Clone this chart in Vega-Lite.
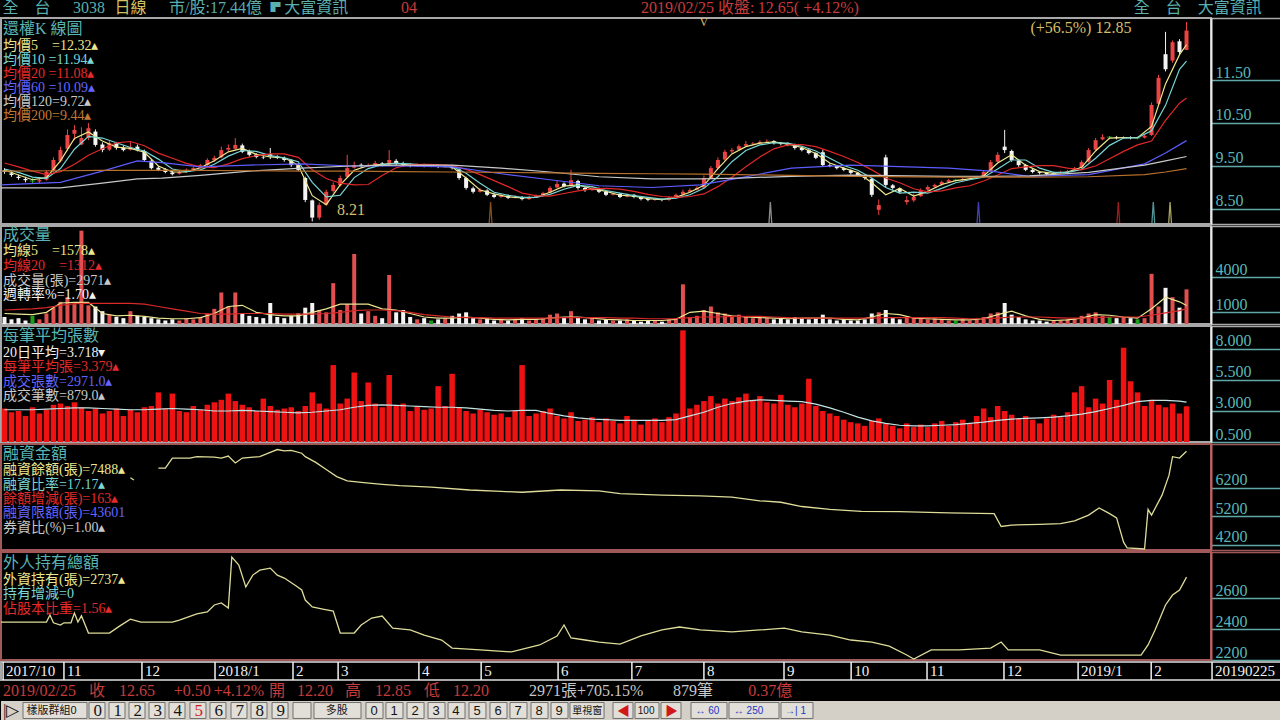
{
"$schema":"https://vega.github.io/schema/vega-lite/v6.json",
"background":"#000000","padding":0,"spacing":2,"bounds":"flush",
"config":{"view":{"stroke":null},"font":"Liberation Serif, Noto Sans CJK TC, sans-serif","text":{"font":"Liberation Serif, Noto Sans CJK TC, sans-serif"},"axis":{"labelOverlap":false}},
"datasets":{
"hdr":[{"col":0.1,"txt":"全　台","s":10},{"col":4.5,"txt":"3038","s":10},{"col":7.1,"txt":"日線","s":11},{"col":10.5,"txt":"市/股:17.44億","s":10},{"col":16.85,"txt":"▛","s":10},{"col":17.7,"txt":"大富資訊","s":10},{"col":25,"txt":"04","s":8},{"col":40,"txt":"2019/02/25 收盤:","s":8},{"col":47.3,"txt":"12.65( +4.12%)","s":8},{"col":70.8,"txt":"全　台　大富資訊","s":10}],
"k":[
{"t":1,"o":9.40,"h":9.45,"l":9.32,"c":9.36,"v":600,"a":3.2},
{"t":3,"o":9.33,"h":9.38,"l":9.25,"c":9.29,"v":400,"a":2.9},
{"t":5,"o":9.25,"h":9.30,"l":9.18,"c":9.22,"v":500,"a":3.0},
{"t":7,"o":9.20,"h":9.25,"l":9.12,"c":9.17,"v":300,"a":2.6},
{"t":9,"o":9.15,"h":9.22,"l":9.10,"c":9.15,"v":700,"a":3.3},
{"t":11,"o":9.14,"h":9.24,"l":9.10,"c":9.17,"v":400,"a":2.8},
{"t":13,"o":9.18,"h":9.40,"l":9.16,"c":9.36,"v":900,"a":3.1},
{"t":15,"o":9.38,"h":9.70,"l":9.35,"c":9.64,"v":1400,"a":3.5},
{"t":17,"o":9.62,"h":9.95,"l":9.58,"c":9.87,"v":1900,"a":3.6},
{"t":19,"o":9.90,"h":10.35,"l":9.85,"c":10.22,"v":2300,"a":3.4},
{"t":21,"o":10.25,"h":10.45,"l":10.10,"c":10.34,"v":1700,"a":3.7},
{"t":23,"o":10.00,"h":10.40,"l":9.98,"c":10.15,"v":8000,"a":3.3},
{"t":25,"o":10.15,"h":10.50,"l":10.10,"c":10.38,"v":1600,"a":3.0},
{"t":27,"o":10.30,"h":10.35,"l":9.95,"c":9.99,"v":1500,"a":3.2},
{"t":29,"o":10.00,"h":10.05,"l":9.82,"c":9.87,"v":1100,"a":2.8},
{"t":31,"o":9.88,"h":10.10,"l":9.85,"c":10.03,"v":800,"a":3.0},
{"t":33,"o":10.02,"h":10.06,"l":9.88,"c":9.92,"v":600,"a":3.2},
{"t":35,"o":9.92,"h":9.98,"l":9.84,"c":9.87,"v":500,"a":2.6},
{"t":37,"o":9.88,"h":10.08,"l":9.86,"c":9.94,"v":1100,"a":3.1},
{"t":39,"o":9.95,"h":10.00,"l":9.84,"c":9.87,"v":700,"a":2.9},
{"t":41,"o":9.85,"h":9.88,"l":9.60,"c":9.64,"v":600,"a":3.3},
{"t":43,"o":9.62,"h":9.66,"l":9.42,"c":9.45,"v":500,"a":3.4},
{"t":45,"o":9.46,"h":9.50,"l":9.38,"c":9.41,"v":400,"a":4.5},
{"t":47,"o":9.42,"h":9.45,"l":9.33,"c":9.36,"v":300,"a":3.2},
{"t":49,"o":9.35,"h":9.40,"l":9.28,"c":9.31,"v":400,"a":4.4},
{"t":51,"o":9.32,"h":9.40,"l":9.30,"c":9.36,"v":300,"a":3.0},
{"t":53,"o":9.37,"h":9.44,"l":9.35,"c":9.41,"v":500,"a":2.9},
{"t":55,"o":9.41,"h":9.48,"l":9.39,"c":9.45,"v":400,"a":3.4},
{"t":57,"o":9.46,"h":9.55,"l":9.44,"c":9.52,"v":600,"a":3.1},
{"t":59,"o":9.52,"h":9.68,"l":9.50,"c":9.64,"v":900,"a":3.5},
{"t":61,"o":9.63,"h":9.74,"l":9.60,"c":9.69,"v":1300,"a":3.7},
{"t":63,"o":9.70,"h":9.95,"l":9.68,"c":9.87,"v":2700,"a":3.9},
{"t":65,"o":9.88,"h":10.00,"l":9.85,"c":9.92,"v":1500,"a":4.4},
{"t":67,"o":9.90,"h":10.15,"l":9.88,"c":9.99,"v":2700,"a":3.8},
{"t":69,"o":9.98,"h":10.02,"l":9.80,"c":9.83,"v":900,"a":3.5},
{"t":71,"o":9.84,"h":9.88,"l":9.72,"c":9.76,"v":700,"a":3.3},
{"t":73,"o":9.77,"h":9.80,"l":9.68,"c":9.71,"v":600,"a":3.0},
{"t":75,"o":9.70,"h":9.74,"l":9.66,"c":9.69,"v":500,"a":4.0},
{"t":77,"o":9.78,"h":9.92,"l":9.66,"c":9.73,"v":1800,"a":3.4},
{"t":79,"o":9.72,"h":9.75,"l":9.66,"c":9.69,"v":600,"a":3.1},
{"t":81,"o":9.69,"h":9.72,"l":9.60,"c":9.64,"v":500,"a":3.2},
{"t":83,"o":9.63,"h":9.66,"l":9.48,"c":9.52,"v":700,"a":3.3},
{"t":85,"o":9.52,"h":9.56,"l":9.38,"c":9.41,"v":900,"a":3.0},
{"t":87,"o":9.22,"h":9.25,"l":8.66,"c":8.71,"v":1400,"a":3.4},
{"t":89,"o":8.70,"h":8.72,"l":8.21,"c":8.30,"v":1800,"a":4.5},
{"t":91,"o":8.30,"h":8.65,"l":8.25,"c":8.59,"v":1200,"a":3.6},
{"t":93,"o":8.60,"h":8.95,"l":8.58,"c":8.90,"v":1000,"a":3.2},
{"t":95,"o":8.92,"h":9.12,"l":8.88,"c":9.06,"v":3500,"a":6.7},
{"t":97,"o":9.05,"h":9.28,"l":9.02,"c":9.22,"v":1200,"a":3.6},
{"t":99,"o":9.25,"h":9.76,"l":9.22,"c":9.45,"v":1700,"a":4.0},
{"t":101,"o":9.46,"h":9.60,"l":9.44,"c":9.52,"v":6000,"a":6.1},
{"t":103,"o":9.53,"h":9.56,"l":9.46,"c":9.50,"v":900,"a":3.8},
{"t":105,"o":9.50,"h":9.56,"l":9.47,"c":9.52,"v":1100,"a":5.3},
{"t":107,"o":9.53,"h":9.62,"l":9.50,"c":9.57,"v":700,"a":3.6},
{"t":109,"o":9.56,"h":9.59,"l":9.49,"c":9.52,"v":500,"a":3.3},
{"t":111,"o":9.53,"h":9.87,"l":9.50,"c":9.64,"v":4200,"a":5.9},
{"t":113,"o":9.62,"h":9.66,"l":9.52,"c":9.55,"v":1000,"a":3.4},
{"t":115,"o":9.55,"h":9.60,"l":9.49,"c":9.52,"v":1200,"a":3.6},
{"t":117,"o":9.52,"h":9.56,"l":9.47,"c":9.50,"v":600,"a":3.0},
{"t":119,"o":9.50,"h":9.56,"l":9.48,"c":9.52,"v":400,"a":3.4},
{"t":121,"o":9.52,"h":9.55,"l":9.47,"c":9.50,"v":500,"a":3.1},
{"t":123,"o":9.50,"h":9.54,"l":9.47,"c":9.50,"v":300,"a":3.2},
{"t":125,"o":9.50,"h":9.53,"l":9.45,"c":9.48,"v":400,"a":5.0},
{"t":127,"o":9.48,"h":9.54,"l":9.46,"c":9.50,"v":500,"a":3.4},
{"t":129,"o":9.50,"h":9.53,"l":9.42,"c":9.45,"v":700,"a":6.0},
{"t":131,"o":9.42,"h":9.45,"l":9.18,"c":9.22,"v":900,"a":3.3},
{"t":133,"o":9.22,"h":9.25,"l":8.95,"c":8.99,"v":1000,"a":3.0},
{"t":135,"o":8.98,"h":9.02,"l":8.86,"c":8.90,"v":500,"a":2.8},
{"t":137,"o":8.90,"h":8.98,"l":8.88,"c":8.94,"v":400,"a":3.1},
{"t":139,"o":8.93,"h":8.96,"l":8.80,"c":8.83,"v":500,"a":2.9},
{"t":141,"o":8.83,"h":8.86,"l":8.75,"c":8.78,"v":300,"a":2.7},
{"t":143,"o":8.78,"h":8.85,"l":8.76,"c":8.81,"v":400,"a":2.8},
{"t":145,"o":8.81,"h":8.84,"l":8.73,"c":8.76,"v":300,"a":2.5},
{"t":147,"o":8.76,"h":8.82,"l":8.74,"c":8.78,"v":400,"a":3.0},
{"t":149,"o":8.78,"h":8.80,"l":8.70,"c":8.73,"v":500,"a":6.7},
{"t":151,"o":8.73,"h":8.81,"l":8.71,"c":8.78,"v":300,"a":2.6},
{"t":153,"o":8.78,"h":8.84,"l":8.76,"c":8.81,"v":400,"a":2.8},
{"t":155,"o":8.81,"h":8.90,"l":8.79,"c":8.87,"v":500,"a":3.0},
{"t":157,"o":8.88,"h":9.03,"l":8.86,"c":8.99,"v":800,"a":3.2},
{"t":159,"o":9.00,"h":9.15,"l":8.98,"c":9.08,"v":900,"a":2.6},
{"t":161,"o":9.09,"h":9.12,"l":9.00,"c":9.03,"v":600,"a":2.4},
{"t":163,"o":9.05,"h":9.41,"l":9.02,"c":9.17,"v":1100,"a":2.9},
{"t":165,"o":9.15,"h":9.18,"l":8.95,"c":8.99,"v":600,"a":2.2},
{"t":167,"o":8.99,"h":9.02,"l":8.90,"c":8.94,"v":400,"a":2.3},
{"t":169,"o":8.94,"h":9.03,"l":8.92,"c":8.99,"v":500,"a":2.5},
{"t":171,"o":8.98,"h":9.00,"l":8.87,"c":8.90,"v":300,"a":2.1},
{"t":173,"o":8.90,"h":8.92,"l":8.80,"c":8.83,"v":400,"a":2.4},
{"t":175,"o":8.83,"h":8.88,"l":8.81,"c":8.85,"v":300,"a":2.2},
{"t":177,"o":8.85,"h":8.87,"l":8.75,"c":8.78,"v":300,"a":2.0},
{"t":179,"o":8.79,"h":8.86,"l":8.77,"c":8.83,"v":400,"a":2.6},
{"t":181,"o":8.83,"h":8.85,"l":8.75,"c":8.78,"v":300,"a":2.3},
{"t":183,"o":8.78,"h":8.80,"l":8.70,"c":8.73,"v":200,"a":1.9},
{"t":185,"o":8.73,"h":8.75,"l":8.68,"c":8.71,"v":300,"a":2.2},
{"t":187,"o":8.71,"h":8.76,"l":8.69,"c":8.73,"v":300,"a":2.4},
{"t":189,"o":8.73,"h":8.75,"l":8.68,"c":8.71,"v":200,"a":2.1},
{"t":191,"o":8.71,"h":8.79,"l":8.69,"c":8.76,"v":400,"a":2.5},
{"t":193,"o":8.76,"h":8.86,"l":8.74,"c":8.83,"v":500,"a":2.8},
{"t":195,"o":8.84,"h":8.95,"l":8.80,"c":8.90,"v":3400,"a":9.5},
{"t":197,"o":8.90,"h":8.98,"l":8.88,"c":8.94,"v":600,"a":3.2},
{"t":199,"o":8.95,"h":9.03,"l":8.93,"c":8.99,"v":700,"a":3.5},
{"t":201,"o":9.00,"h":9.28,"l":8.98,"c":9.22,"v":1200,"a":3.8},
{"t":203,"o":9.22,"h":9.50,"l":9.20,"c":9.45,"v":1500,"a":4.2},
{"t":205,"o":9.45,"h":9.70,"l":9.42,"c":9.64,"v":1000,"a":3.6},
{"t":207,"o":9.65,"h":9.88,"l":9.62,"c":9.83,"v":900,"a":4.0},
{"t":209,"o":9.84,"h":9.92,"l":9.80,"c":9.87,"v":700,"a":3.8},
{"t":211,"o":9.88,"h":10.00,"l":9.85,"c":9.96,"v":800,"a":4.1},
{"t":213,"o":9.97,"h":10.08,"l":9.95,"c":10.01,"v":600,"a":4.4},
{"t":215,"o":10.02,"h":10.06,"l":9.98,"c":10.03,"v":500,"a":3.9},
{"t":217,"o":10.03,"h":10.10,"l":10.01,"c":10.06,"v":600,"a":4.2},
{"t":219,"o":10.07,"h":10.12,"l":10.04,"c":10.08,"v":500,"a":3.7},
{"t":221,"o":10.08,"h":10.10,"l":10.00,"c":10.03,"v":400,"a":3.6},
{"t":223,"o":10.03,"h":10.06,"l":9.98,"c":10.01,"v":500,"a":4.3},
{"t":225,"o":10.02,"h":10.05,"l":9.96,"c":9.99,"v":400,"a":3.5},
{"t":227,"o":9.99,"h":10.02,"l":9.88,"c":9.92,"v":600,"a":3.3},
{"t":229,"o":9.92,"h":9.95,"l":9.84,"c":9.87,"v":500,"a":3.6},
{"t":231,"o":9.87,"h":9.90,"l":9.77,"c":9.80,"v":400,"a":5.6},
{"t":233,"o":9.80,"h":9.82,"l":9.66,"c":9.69,"v":500,"a":3.4},
{"t":235,"o":9.82,"h":9.88,"l":9.48,"c":9.52,"v":800,"a":3.0},
{"t":237,"o":9.52,"h":9.56,"l":9.47,"c":9.50,"v":400,"a":2.8},
{"t":239,"o":9.50,"h":9.52,"l":9.42,"c":9.45,"v":300,"a":2.6},
{"t":241,"o":9.45,"h":9.48,"l":9.38,"c":9.41,"v":400,"a":2.3},
{"t":243,"o":9.40,"h":9.42,"l":9.30,"c":9.34,"v":300,"a":2.1},
{"t":245,"o":9.34,"h":9.36,"l":9.26,"c":9.29,"v":300,"a":2.0},
{"t":247,"o":9.28,"h":9.30,"l":9.18,"c":9.22,"v":400,"a":1.8},
{"t":249,"o":9.20,"h":9.22,"l":8.78,"c":8.83,"v":900,"a":2.2},
{"t":251,"o":8.48,"h":8.72,"l":8.36,"c":8.59,"v":1000,"a":2.4},
{"t":253,"o":9.70,"h":9.76,"l":9.00,"c":9.06,"v":1200,"a":2.0},
{"t":255,"o":9.05,"h":9.08,"l":8.95,"c":8.99,"v":500,"a":1.8},
{"t":257,"o":8.98,"h":9.00,"l":8.86,"c":8.90,"v":400,"a":1.6},
{"t":259,"o":8.66,"h":8.80,"l":8.60,"c":8.71,"v":600,"a":2.0},
{"t":261,"o":8.70,"h":8.86,"l":8.66,"c":8.78,"v":500,"a":1.7},
{"t":263,"o":8.80,"h":8.98,"l":8.78,"c":8.94,"v":500,"a":1.9},
{"t":265,"o":8.95,"h":9.05,"l":8.92,"c":9.01,"v":400,"a":1.7},
{"t":267,"o":9.02,"h":9.09,"l":9.00,"c":9.06,"v":500,"a":2.0},
{"t":269,"o":9.07,"h":9.16,"l":9.04,"c":9.13,"v":400,"a":2.2},
{"t":271,"o":9.13,"h":9.20,"l":9.11,"c":9.17,"v":300,"a":1.8},
{"t":273,"o":9.17,"h":9.20,"l":9.14,"c":9.17,"v":300,"a":2.1},
{"t":275,"o":9.17,"h":9.23,"l":9.15,"c":9.20,"v":400,"a":2.3},
{"t":277,"o":9.20,"h":9.25,"l":9.18,"c":9.22,"v":300,"a":2.0},
{"t":279,"o":9.22,"h":9.27,"l":9.20,"c":9.24,"v":400,"a":2.6},
{"t":281,"o":9.25,"h":9.40,"l":9.23,"c":9.36,"v":600,"a":3.2},
{"t":283,"o":9.38,"h":9.64,"l":9.36,"c":9.59,"v":900,"a":2.5},
{"t":285,"o":9.60,"h":9.82,"l":9.58,"c":9.76,"v":1000,"a":3.4},
{"t":287,"o":9.95,"h":10.34,"l":9.80,"c":9.87,"v":1800,"a":3.0},
{"t":289,"o":9.85,"h":9.88,"l":9.60,"c":9.64,"v":800,"a":2.7},
{"t":291,"o":9.63,"h":9.66,"l":9.48,"c":9.52,"v":600,"a":2.4},
{"t":293,"o":9.52,"h":9.55,"l":9.38,"c":9.41,"v":400,"a":2.6},
{"t":295,"o":9.41,"h":9.44,"l":9.33,"c":9.36,"v":300,"a":2.3},
{"t":297,"o":9.36,"h":9.38,"l":9.30,"c":9.34,"v":300,"a":2.0},
{"t":299,"o":9.34,"h":9.36,"l":9.28,"c":9.31,"v":200,"a":2.4},
{"t":301,"o":9.31,"h":9.37,"l":9.29,"c":9.34,"v":300,"a":2.7},
{"t":303,"o":9.34,"h":9.39,"l":9.32,"c":9.36,"v":300,"a":2.5},
{"t":305,"o":9.36,"h":9.41,"l":9.34,"c":9.38,"v":400,"a":2.9},
{"t":307,"o":9.39,"h":9.48,"l":9.37,"c":9.45,"v":500,"a":4.5},
{"t":309,"o":9.46,"h":9.63,"l":9.44,"c":9.59,"v":700,"a":5.0},
{"t":311,"o":9.60,"h":9.92,"l":9.58,"c":9.87,"v":900,"a":3.3},
{"t":313,"o":9.88,"h":10.15,"l":9.86,"c":10.10,"v":1000,"a":4.0},
{"t":315,"o":10.12,"h":10.24,"l":10.10,"c":10.17,"v":700,"a":3.6},
{"t":317,"o":10.17,"h":10.20,"l":10.12,"c":10.17,"v":600,"a":5.5},
{"t":319,"o":10.17,"h":10.20,"l":10.12,"c":10.15,"v":500,"a":3.9},
{"t":321,"o":10.15,"h":10.20,"l":10.13,"c":10.17,"v":600,"a":8.1},
{"t":323,"o":10.17,"h":10.19,"l":10.12,"c":10.15,"v":500,"a":5.4},
{"t":325,"o":10.15,"h":10.18,"l":10.12,"c":10.15,"v":400,"a":4.5},
{"t":327,"o":10.16,"h":10.23,"l":10.14,"c":10.20,"v":500,"a":3.4},
{"t":329,"o":10.22,"h":10.98,"l":10.20,"c":10.92,"v":4300,"a":3.9},
{"t":331,"o":10.95,"h":11.62,"l":10.90,"c":11.55,"v":1500,"a":3.5},
{"t":333,"o":12.10,"h":12.62,"l":11.70,"c":11.75,"v":3100,"a":3.3},
{"t":335,"o":11.95,"h":12.42,"l":11.90,"c":12.38,"v":2300,"a":3.6},
{"t":337,"o":12.40,"h":12.45,"l":12.10,"c":12.15,"v":1400,"a":2.8},
{"t":339,"o":12.20,"h":12.85,"l":12.20,"c":12.65,"v":2971,"a":3.379}
],
"ma":[
{"t":1,"m5":9.41,"m10":9.43,"m20":9.57,"v5":900,"v20":1200,"a20":3.1},
{"t":5,"m5":9.29,"m10":9.35,"m20":9.48,"v5":850,"v20":1250,"a20":3.1},
{"t":9,"m5":9.18,"m10":9.24,"m20":9.38,"v5":800,"v20":1300,"a20":3.1},
{"t":13,"m5":9.23,"m10":9.21,"m20":9.30,"v5":1000,"v20":1400,"a20":3.15},
{"t":17,"m5":9.62,"m10":9.44,"m20":9.37,"v5":1800,"v20":1600,"a20":3.2},
{"t":21,"m5":10.14,"m10":9.89,"m20":9.54,"v5":1850,"v20":1750,"a20":3.25},
{"t":25,"m5":10.29,"m10":10.19,"m20":9.75,"v5":1850,"v20":1770,"a20":3.25},
{"t":29,"m5":10.08,"m10":10.15,"m20":9.90,"v5":900,"v20":1770,"a20":3.2},
{"t":33,"m5":9.94,"m10":10.04,"m20":10.04,"v5":700,"v20":1770,"a20":3.15},
{"t":37,"m5":9.91,"m10":9.93,"m20":10.07,"v5":750,"v20":1770,"a20":3.1},
{"t":41,"m5":9.82,"m10":9.85,"m20":9.97,"v5":650,"v20":1700,"a20":3.1},
{"t":45,"m5":9.50,"m10":9.66,"m20":9.80,"v5":500,"v20":1500,"a20":3.15},
{"t":49,"m5":9.36,"m10":9.43,"m20":9.68,"v5":450,"v20":1300,"a20":3.2},
{"t":53,"m5":9.36,"m10":9.37,"m20":9.56,"v5":450,"v20":1100,"a20":3.15},
{"t":57,"m5":9.46,"m10":9.41,"m20":9.48,"v5":550,"v20":900,"a20":3.1},
{"t":61,"m5":9.62,"m10":9.54,"m20":9.46,"v5":900,"v20":850,"a20":3.0},
{"t":65,"m5":9.83,"m10":9.73,"m20":9.55,"v5":1500,"v20":850,"a20":3.0},
{"t":69,"m5":9.91,"m10":9.86,"m20":9.67,"v5":1600,"v20":900,"a20":3.05},
{"t":73,"m5":9.77,"m10":9.84,"m20":9.74,"v5":1000,"v20":900,"a20":3.0},
{"t":77,"m5":9.71,"m10":9.74,"m20":9.78,"v5":800,"v20":900,"a20":2.95},
{"t":81,"m5":9.69,"m10":9.69,"m20":9.78,"v5":700,"v20":850,"a20":2.9},
{"t":85,"m5":9.52,"m10":9.60,"m20":9.70,"v5":700,"v20":850,"a20":2.85},
{"t":89,"m5":8.81,"m10":9.12,"m20":9.41,"v5":1000,"v20":850,"a20":2.9},
{"t":93,"m5":8.60,"m10":8.78,"m20":9.21,"v5":1300,"v20":900,"a20":3.0},
{"t":97,"m5":9.06,"m10":8.82,"m20":9.10,"v5":1700,"v20":1000,"a20":3.1},
{"t":101,"m5":9.40,"m10":9.23,"m20":9.06,"v5":1700,"v20":1150,"a20":3.3},
{"t":105,"m5":9.51,"m10":9.44,"m20":9.07,"v5":1700,"v20":1200,"a20":3.45},
{"t":109,"m5":9.54,"m10":9.53,"m20":9.28,"v5":1300,"v20":1200,"a20":3.5},
{"t":113,"m5":9.57,"m10":9.56,"m20":9.46,"v5":1200,"v20":1150,"a20":3.45},
{"t":117,"m5":9.52,"m10":9.55,"m20":9.53,"v5":900,"v20":1000,"a20":3.4},
{"t":121,"m5":9.51,"m10":9.52,"m20":9.54,"v5":600,"v20":800,"a20":3.35},
{"t":125,"m5":9.49,"m10":9.50,"m20":9.53,"v5":500,"v20":700,"a20":3.3},
{"t":129,"m5":9.48,"m10":9.49,"m20":9.51,"v5":500,"v20":600,"a20":3.3},
{"t":133,"m5":9.22,"m10":9.33,"m20":9.42,"v5":600,"v20":550,"a20":3.25},
{"t":137,"m5":8.94,"m10":9.10,"m20":9.30,"v5":500,"v20":550,"a20":3.15},
{"t":141,"m5":8.85,"m10":8.89,"m20":9.16,"v5":400,"v20":500,"a20":3.05},
{"t":145,"m5":8.78,"m10":8.82,"m20":9.02,"v5":350,"v20":500,"a20":3.0},
{"t":149,"m5":8.76,"m10":8.77,"m20":8.87,"v5":400,"v20":500,"a20":3.05},
{"t":153,"m5":8.77,"m10":8.77,"m20":8.81,"v5":400,"v20":500,"a20":3.05},
{"t":157,"m5":8.89,"m10":8.84,"m20":8.80,"v5":500,"v20":500,"a20":2.8},
{"t":161,"m5":9.03,"m10":8.96,"m20":8.86,"v5":600,"v20":550,"a20":2.6},
{"t":165,"m5":9.06,"m10":9.05,"m20":8.92,"v5":600,"v20":550,"a20":2.45},
{"t":169,"m5":8.97,"m10":9.02,"m20":8.97,"v5":500,"v20":550,"a20":2.35},
{"t":173,"m5":8.91,"m10":8.93,"m20":8.98,"v5":400,"v20":550,"a20":2.3},
{"t":177,"m5":8.82,"m10":8.87,"m20":8.96,"v5":350,"v20":500,"a20":2.25},
{"t":181,"m5":8.80,"m10":8.81,"m20":8.91,"v5":300,"v20":500,"a20":2.25},
{"t":185,"m5":8.74,"m10":8.77,"m20":8.84,"v5":300,"v20":450,"a20":2.25},
{"t":189,"m5":8.72,"m10":8.73,"m20":8.79,"v5":300,"v20":450,"a20":2.25},
{"t":193,"m5":8.77,"m10":8.75,"m20":8.77,"v5":400,"v20":450,"a20":2.3},
{"t":197,"m5":8.89,"m10":8.83,"m20":8.79,"v5":1000,"v20":550,"a20":2.6},
{"t":201,"m5":9.05,"m10":8.98,"m20":8.85,"v5":1100,"v20":600,"a20":2.9},
{"t":205,"m5":9.44,"m10":9.25,"m20":9.02,"v5":900,"v20":600,"a20":3.3},
{"t":209,"m5":9.78,"m10":9.60,"m20":9.24,"v5":700,"v20":650,"a20":3.6},
{"t":213,"m5":9.95,"m10":9.86,"m20":9.48,"v5":600,"v20":650,"a20":3.8},
{"t":217,"m5":10.03,"m10":9.99,"m20":9.71,"v5":550,"v20":650,"a20":3.9},
{"t":221,"m5":10.06,"m10":10.04,"m20":9.90,"v5":500,"v20":600,"a20":3.85},
{"t":225,"m5":10.01,"m10":10.03,"m20":9.99,"v5":450,"v20":550,"a20":3.8},
{"t":229,"m5":9.93,"m10":9.96,"m20":10.00,"v5":500,"v20":500,"a20":3.75},
{"t":233,"m5":9.79,"m10":9.85,"m20":9.95,"v5":500,"v20":500,"a20":3.55},
{"t":237,"m5":9.57,"m10":9.68,"m20":9.84,"v5":500,"v20":500,"a20":3.25},
{"t":241,"m5":9.45,"m10":9.51,"m20":9.72,"v5":400,"v20":500,"a20":2.9},
{"t":245,"m5":9.35,"m10":9.40,"m20":9.58,"v5":350,"v20":500,"a20":2.5},
{"t":249,"m5":9.11,"m10":9.22,"m20":9.41,"v5":600,"v20":500,"a20":2.2},
{"t":253,"m5":8.83,"m10":9.00,"m20":9.22,"v5":900,"v20":550,"a20":2.0},
{"t":257,"m5":8.98,"m10":8.87,"m20":9.11,"v5":800,"v20":550,"a20":1.85},
{"t":261,"m5":8.80,"m10":8.89,"m20":8.97,"v5":500,"v20":550,"a20":1.8},
{"t":265,"m5":8.91,"m10":8.87,"m20":8.90,"v5":450,"v20":550,"a20":1.8},
{"t":269,"m5":9.07,"m10":8.98,"m20":8.92,"v5":400,"v20":550,"a20":1.85},
{"t":273,"m5":9.16,"m10":9.11,"m20":8.99,"v5":350,"v20":500,"a20":1.9},
{"t":277,"m5":9.20,"m10":9.18,"m20":9.04,"v5":350,"v20":450,"a20":2.0},
{"t":281,"m5":9.27,"m10":9.24,"m20":9.15,"v5":450,"v20":450,"a20":2.1},
{"t":285,"m5":9.57,"m10":9.43,"m20":9.29,"v5":800,"v20":500,"a20":2.25},
{"t":289,"m5":9.76,"m10":9.64,"m20":9.44,"v5":1100,"v20":600,"a20":2.35},
{"t":293,"m5":9.52,"m10":9.64,"m20":9.48,"v5":700,"v20":600,"a20":2.4},
{"t":297,"m5":9.37,"m10":9.45,"m20":9.51,"v5":400,"v20":600,"a20":2.45},
{"t":301,"m5":9.33,"m10":9.35,"m20":9.51,"v5":300,"v20":550,"a20":2.5},
{"t":305,"m5":9.36,"m10":9.35,"m20":9.45,"v5":350,"v20":500,"a20":2.6},
{"t":309,"m5":9.47,"m10":9.42,"m20":9.41,"v5":500,"v20":500,"a20":2.75},
{"t":313,"m5":9.85,"m10":9.68,"m20":9.50,"v5":800,"v20":550,"a20":2.95},
{"t":317,"m5":10.15,"m10":9.98,"m20":9.67,"v5":750,"v20":600,"a20":3.2},
{"t":321,"m5":10.16,"m10":10.15,"m20":9.84,"v5":600,"v20":600,"a20":3.45},
{"t":325,"m5":10.16,"m10":10.16,"m20":9.99,"v5":500,"v20":600,"a20":3.75},
{"t":329,"m5":10.42,"m10":10.32,"m20":10.08,"v5":1300,"v20":750,"a20":3.85},
{"t":333,"m5":11.41,"m10":10.91,"m20":10.56,"v5":2300,"v20":950,"a20":3.85},
{"t":337,"m5":12.09,"m10":11.75,"m20":10.96,"v5":1900,"v20":1150,"a20":3.8},
{"t":339,"m5":12.32,"m10":11.94,"m20":11.08,"v5":1578,"v20":1312,"a20":3.718}
],
"lm":[
{"t":0,"m60":9.06,"m120":8.99,"m200":9.38},{"t":17,"m60":9.12,"m120":8.99,"m200":9.39},{"t":29,"m60":9.38,"m120":9.10,"m200":9.40},{"t":39,"m60":9.62,"m120":9.20,"m200":9.40},{"t":46,"m60":9.58,"m120":9.22,"m200":9.40},{"t":57,"m60":9.48,"m120":9.28,"m200":9.40},{"t":71,"m60":9.52,"m120":9.38,"m200":9.39},{"t":86,"m60":9.55,"m120":9.45,"m200":9.38},{"t":100,"m60":9.50,"m120":9.50,"m200":9.38},{"t":114,"m60":9.50,"m120":9.52,"m200":9.37},{"t":129,"m60":9.48,"m120":9.52,"m200":9.36},{"t":143,"m60":9.32,"m120":9.45,"m200":9.35},{"t":157,"m60":9.18,"m120":9.36,"m200":9.34},{"t":171,"m60":9.04,"m120":9.25,"m200":9.33},{"t":186,"m60":9.00,"m120":9.20,"m200":9.32},{"t":200,"m60":9.06,"m120":9.20,"m200":9.31},{"t":211,"m60":9.22,"m120":9.22,"m200":9.30},{"t":226,"m60":9.45,"m120":9.26,"m200":9.28},{"t":243,"m60":9.52,"m120":9.29,"m200":9.26},{"t":271,"m60":9.45,"m120":9.26,"m200":9.24},{"t":283,"m60":9.38,"m120":9.26,"m200":9.24},{"t":294,"m60":9.26,"m120":9.27,"m200":9.24},{"t":311,"m60":9.30,"m120":9.35,"m200":9.25},{"t":327,"m60":9.55,"m120":9.52,"m200":9.30},{"t":333,"m60":9.80,"m120":9.62,"m200":9.36},{"t":339,"m60":10.09,"m120":9.72,"m200":9.44}
],
"mk":[{"t":140,"key":"m200"},{"t":220,"key":"m120"},{"t":279.5,"key":"m60"},{"t":319.5,"key":"m20"},{"t":329.5,"key":"m10"},{"t":334.3,"key":"m5"}],
"an":[{"t":100.1,"p":8.48,"txt":"8.21"},{"t":308.8,"p":12.71,"txt":"(+56.5%) 12.85"},{"t":201,"p":12.86,"txt":"V"}],
"mg":[
{"t":37,"v":6560,"seg":0},{"t":38,"v":6480,"seg":0},
{"t":45,"v":6900,"seg":1},{"t":47,"v":6900,"seg":1},{"t":49,"v":7250,"seg":1},{"t":54,"v":7250,"seg":1},{"t":56,"v":7300,"seg":1},{"t":61,"v":7280,"seg":1},{"t":63,"v":7250,"seg":1},{"t":65,"v":7320,"seg":1},{"t":67,"v":7080,"seg":1},{"t":69,"v":7250,"seg":1},{"t":74,"v":7300,"seg":1},{"t":77,"v":7450,"seg":1},{"t":79,"v":7550,"seg":1},{"t":81,"v":7500,"seg":1},{"t":83,"v":7520,"seg":1},{"t":86,"v":7420,"seg":1},{"t":87,"v":7300,"seg":1},{"t":90,"v":7100,"seg":1},{"t":93,"v":6850,"seg":1},{"t":96,"v":6600,"seg":1},{"t":99,"v":6450,"seg":1},{"t":103,"v":6400,"seg":1},{"t":109,"v":6330,"seg":1},{"t":114,"v":6280,"seg":1},{"t":123,"v":6230,"seg":1},{"t":134,"v":6130,"seg":1},{"t":143,"v":6080,"seg":1},{"t":149,"v":6050,"seg":1},{"t":160,"v":6130,"seg":1},{"t":171,"v":6100,"seg":1},{"t":177,"v":6000,"seg":1},{"t":189,"v":5950,"seg":1},{"t":200,"v":5920,"seg":1},{"t":209,"v":5880,"seg":1},{"t":217,"v":5750,"seg":1},{"t":223,"v":5700,"seg":1},{"t":229,"v":5550,"seg":1},{"t":237,"v":5450,"seg":1},{"t":246,"v":5380,"seg":1},{"t":257,"v":5370,"seg":1},{"t":271,"v":5330,"seg":1},{"t":284,"v":5300,"seg":1},{"t":286,"v":4850,"seg":1},{"t":289,"v":4900,"seg":1},{"t":297,"v":4920,"seg":1},{"t":303,"v":4950,"seg":1},{"t":307,"v":5050,"seg":1},{"t":311,"v":5250,"seg":1},{"t":314,"v":5500,"seg":1},{"t":317,"v":5300,"seg":1},{"t":319,"v":5150,"seg":1},{"t":321,"v":4300,"seg":1},{"t":322,"v":4100,"seg":1},{"t":327,"v":4060,"seg":1},{"t":328,"v":5450,"seg":1},{"t":329,"v":5250,"seg":1},{"t":332,"v":5950,"seg":1},{"t":334,"v":6650,"seg":1},{"t":335,"v":7300,"seg":1},{"t":337,"v":7250,"seg":1},{"t":339,"v":7488,"seg":1}
],
"fh":[
{"t":0,"v":2445},{"t":13,"v":2445},{"t":14,"v":2490},{"t":15,"v":2440},{"t":17,"v":2425},{"t":18,"v":2440},{"t":20,"v":2440},{"t":21,"v":2503},{"t":22,"v":2445},{"t":23,"v":2485},{"t":25,"v":2374},{"t":31,"v":2374},{"t":34,"v":2420},{"t":37,"v":2464},{"t":40,"v":2445},{"t":49,"v":2445},{"t":51,"v":2458},{"t":56,"v":2497},{"t":59,"v":2510},{"t":61,"v":2555},{"t":63,"v":2568},{"t":65,"v":2535},{"t":66,"v":2864},{"t":68,"v":2813},{"t":70,"v":2671},{"t":72,"v":2748},{"t":74,"v":2780},{"t":77,"v":2793},{"t":79,"v":2748},{"t":81,"v":2729},{"t":84,"v":2684},{"t":86,"v":2652},{"t":87,"v":2587},{"t":89,"v":2542},{"t":92,"v":2529},{"t":95,"v":2516},{"t":97,"v":2374},{"t":101,"v":2374},{"t":103,"v":2426},{"t":106,"v":2471},{"t":109,"v":2484},{"t":112,"v":2406},{"t":117,"v":2394},{"t":121,"v":2361},{"t":126,"v":2329},{"t":129,"v":2277},{"t":137,"v":2265},{"t":146,"v":2252},{"t":154,"v":2297},{"t":159,"v":2355},{"t":161,"v":2426},{"t":163,"v":2342},{"t":167,"v":2329},{"t":171,"v":2316},{"t":177,"v":2303},{"t":183,"v":2355},{"t":189,"v":2394},{"t":194,"v":2413},{"t":200,"v":2394},{"t":209,"v":2381},{"t":217,"v":2394},{"t":224,"v":2406},{"t":229,"v":2381},{"t":237,"v":2361},{"t":243,"v":2329},{"t":249,"v":2316},{"t":254,"v":2290},{"t":259,"v":2232},{"t":261,"v":2206},{"t":266,"v":2265},{"t":274,"v":2265},{"t":283,"v":2277},{"t":286,"v":2316},{"t":288,"v":2265},{"t":297,"v":2265},{"t":303,"v":2232},{"t":326,"v":2232},{"t":328,"v":2297},{"t":330,"v":2394},{"t":333,"v":2555},{"t":335,"v":2619},{"t":337,"v":2652},{"t":339,"v":2735}
],
"leg":[
{"panel":"k","r":0.79,"txt":"還權K 線圖","s":0},{"panel":"k","r":2,"txt":"均價5　=12.32▴","s":1},{"panel":"k","r":3,"txt":"均價10 =11.94▴","s":2},{"panel":"k","r":4,"txt":"均價20 =11.08▴","s":3},{"panel":"k","r":5,"txt":"均價60 =10.09▴","s":4},{"panel":"k","r":6,"txt":"均價120=9.72▴","s":5},{"panel":"k","r":7,"txt":"均價200=9.44▴","s":6},
{"panel":"v","r":0.64,"txt":"成交量","s":0},{"panel":"v","r":1.79,"txt":"均線5　=1578▴","s":1},{"panel":"v","r":2.86,"txt":"均線20　=1312▴","s":3},{"panel":"v","r":3.93,"txt":"成交量(張)=2971▴","s":5},{"panel":"v","r":4.93,"txt":"週轉率%=1.70▴","s":7},
{"panel":"a","r":0.71,"txt":"每筆平均張數","s":0},{"panel":"a","r":1.93,"txt":"20日平均=3.718▾","s":7},{"panel":"a","r":2.93,"txt":"每筆平均張=3.379▴","s":3},{"panel":"a","r":4,"txt":"成交張數=2971.0▴","s":4},{"panel":"a","r":5,"txt":"成交筆數=879.0▴","s":5},
{"panel":"m","r":0.71,"txt":"融資金額","s":0},{"panel":"m","r":1.86,"txt":"融資餘額(張)=7488▴","s":1},{"panel":"m","r":2.93,"txt":"融資比率=17.17▴","s":2},{"panel":"m","r":3.93,"txt":"餘額增減(張)=163▴","s":3},{"panel":"m","r":4.93,"txt":"融資限額(張)=43601","s":4},{"panel":"m","r":6,"txt":"券資比(%)=1.00▴","s":5},
{"panel":"f","r":0.79,"txt":"外人持有總額","s":0},{"panel":"f","r":2,"txt":"外資持有(張)=2737▴","s":1},{"panel":"f","r":3,"txt":"持有增減=0","s":2},{"panel":"f","r":4.07,"txt":"佔股本比重=1.56▴","s":3}
],
"mo":[{"t":0.6,"label":"2017/10"},{"t":18.0,"label":"11"},{"t":40.3,"label":"12"},{"t":61.2,"label":"2018/1"},{"t":83.5,"label":"2"},{"t":96.4,"label":"3"},{"t":119.5,"label":"4"},{"t":137.3,"label":"5"},{"t":159.3,"label":"6"},{"t":180.4,"label":"7"},{"t":201.0,"label":"8"},{"t":223.9,"label":"9"},{"t":243.1,"label":"10"},{"t":264.8,"label":"11"},{"t":286.8,"label":"12"},{"t":308.0,"label":"2019/1"},{"t":328.9,"label":"2"},{"t":346.3,"label":"20190225"}],
"ft":[{"col":0.125,"txt":"2019/02/25","s":8},{"col":5.5,"txt":"收","s":8},{"col":7.375,"txt":"12.65","s":8},{"col":10.8,"txt":"+0.50","s":8},{"col":13.3,"txt":"+4.12%","s":8},{"col":16.75,"txt":"開","s":8},{"col":18.5,"txt":"12.20","s":8},{"col":21.5,"txt":"高","s":8},{"col":23.375,"txt":"12.85","s":8},{"col":26.44,"txt":"低","s":8},{"col":28.25,"txt":"12.20","s":8},{"col":33,"txt":"2971張+705.15%","s":5},{"col":42,"txt":"879筆","s":5},{"col":46.7,"txt":"0.37億","s":8}],
"tb":[{"a":1.375,"b":5.375},{"a":5.5,"b":6.5},{"a":6.75,"b":7.75},{"a":8,"b":9},{"a":9.25,"b":10.25},{"a":10.5,"b":11.5},{"a":11.81,"b":12.81},{"a":13.06,"b":14.06},{"a":14.375,"b":15.375},{"a":15.625,"b":16.625},{"a":16.94,"b":17.94},{"a":18.25,"b":19.375},{"a":19.56,"b":22.5},{"a":22.81,"b":23.875},{"a":24.06,"b":25.125},{"a":25.375,"b":26.44},{"a":26.69,"b":27.75},{"a":27.94,"b":29},{"a":29.25,"b":30.31},{"a":30.56,"b":31.625},{"a":31.81,"b":32.875},{"a":33.125,"b":34.19},{"a":34.375,"b":35.44},{"a":35.56,"b":37.69},{"a":38.25,"b":39.5},{"a":39.625,"b":41.125},{"a":41.25,"b":42.5},{"a":43.125,"b":45.375},{"a":45.5,"b":48.625},{"a":48.75,"b":50.75}],
"tl":[{"col":0.12,"txt":"|▷","s":12,"g":0},{"col":1.6,"txt":"樣版群組0","s":12,"g":1},{"col":5.78,"txt":"0","s":12,"g":0},{"col":7.03,"txt":"1","s":12,"g":0},{"col":8.28,"txt":"2","s":12,"g":0},{"col":9.53,"txt":"3","s":12,"g":0},{"col":10.78,"txt":"4","s":12,"g":0},{"col":12.09,"txt":"5","s":13,"g":0},{"col":13.34,"txt":"6","s":12,"g":0},{"col":14.66,"txt":"7","s":12,"g":0},{"col":15.9,"txt":"8","s":12,"g":0},{"col":17.22,"txt":"9","s":12,"g":0},{"col":20.3,"txt":"多股","s":12,"g":1},{"col":23.1,"txt":"0","s":12,"g":2},{"col":24.35,"txt":"1","s":12,"g":2},{"col":25.65,"txt":"2","s":12,"g":2},{"col":26.97,"txt":"3","s":12,"g":2},{"col":28.2,"txt":"4","s":12,"g":2},{"col":29.53,"txt":"5","s":12,"g":2},{"col":30.84,"txt":"6","s":12,"g":2},{"col":32.1,"txt":"7","s":12,"g":2},{"col":33.4,"txt":"8","s":12,"g":2},{"col":34.65,"txt":"9","s":12,"g":2},{"col":35.7,"txt":"單視窗","s":12,"g":3},{"col":38.5,"txt":"◀","s":13,"g":2},{"col":39.8,"txt":"100","s":12,"g":3},{"col":41.5,"txt":"▶","s":13,"g":2},{"col":43.4,"txt":"↔ 60","s":14,"g":3},{"col":45.8,"txt":"↔ 250","s":14,"g":3},{"col":49.0,"txt":"→| 1","s":14,"g":3}]
},
"vconcat":[
{"width":1280,"height":16,"data":{"name":"hdr"},
 "mark":{"type":"text","align":"left","baseline":"middle"},
 "encoding":{"x":{"field":"col","type":"quantitative","scale":{"domain":[0,80],"nice":false,"zero":false},"axis":null},"text":{"field":"txt"},
 "size":{"condition":{"test":"datum.txt == '▛'","value":10},"value":16},
 "color":{"field":"s","type":"nominal","scale":{"domain":[0,1,2,3,4,5,6,7,8,9,10,11,12,13,14],"range":["#58b4b4","#ece690","#7cd6d6","#e42a2a","#6464ff","#c8c8c8","#c07a34","#f2f2f2","#c63c3c","#d2bb6a","#5aaeae","#d2c062","#141414","#d01818","#1838c0"]},"legend":null}}},
{"width":1210,"height":206,"view":{"stroke":"#a8a8a8","strokeWidth":2},
 "layer":[
  {"layer":[
   {"data":{"name":"k"},"mark":{"type":"rule","strokeWidth":1,"clip":true},
    "encoding":{"x":{"field":"t","type":"quantitative","scale":{"domain":[0,346],"nice":false,"zero":false,"padding":0},"axis":null},
     "y":{"field":"l","type":"quantitative","scale":{"domain":[8.151,12.942],"nice":false,"zero":false},
      "axis":{"orient":"right","values":[8.151,8.5,9.5,10.5,11.5,12.942],"labelExpr":"datum.value > 8.2 && datum.value < 12.9 ? format(datum.value, '.2f') : ''","title":null,"grid":false,"domainColor":"#e8e8e8","domainWidth":2,"tickSize":70,"tickWidth":1.5,"tickColor":{"condition":{"test":"datum.value < 8.2 || datum.value > 12.9","value":"#a8a8a8"},"value":"#5fa8a8"},"labelColor":"#5cb6b6","labelFont":"Liberation Serif","labelFontSize":16,"labelPadding":-66,"labelAlign":"left","labelBaseline":"alphabetic","labelOffset":-3,"labelFlush":false,"labelOverlap":false,"minExtent":70,"maxExtent":70}},
     "y2":{"field":"h"},
     "color":{"condition":[{"test":"datum.c > datum.o","value":"#ec4444"},{"test":"datum.c < datum.o","value":"#f4f4f4"}],"value":"#22b022"}}},
   {"data":{"name":"k"},"mark":{"type":"bar","size":4,"clip":true},
    "encoding":{"x":{"field":"t","type":"quantitative","scale":{"domain":[0,346],"nice":false,"zero":false,"padding":0},"axis":null},
     "y":{"field":"o","type":"quantitative"},"y2":{"field":"c"},
     "color":{"condition":[{"test":"datum.c > datum.o","value":"#ec4444"},{"test":"datum.c < datum.o","value":"#f4f4f4"}],"value":"#22b022"}}},
   {"data":{"name":"k"},"transform":[{"filter":"datum.c == datum.o"}],"mark":{"type":"point","shape":"stroke","size":30,"filled":false,"strokeWidth":1.2,"color":"#22b022"},
    "encoding":{"x":{"field":"t","type":"quantitative","scale":{"domain":[0,346],"nice":false,"zero":false,"padding":0},"axis":null},"y":{"field":"c","type":"quantitative"}}},
   {"data":{"name":"ma"},"transform":[{"fold":["m5","m10","m20"],"as":["key","val"]}],"mark":{"type":"line","strokeWidth":1.2,"clip":true},
    "encoding":{"x":{"field":"t","type":"quantitative","scale":{"domain":[0,346],"nice":false,"zero":false,"padding":0},"axis":null},"y":{"field":"val","type":"quantitative"},
     "color":{"field":"key","type":"nominal","scale":{"domain":["m5","m10","m20","m60","m120","m200"],"range":["#eee88e","#78d6d6","#e02828","#5c5cff","#c8c8c8","#b8702c"]},"legend":null}}},
   {"data":{"name":"lm"},"transform":[{"fold":["m60","m120","m200"],"as":["key","val"]}],"mark":{"type":"line","strokeWidth":1.2,"clip":true},
    "encoding":{"x":{"field":"t","type":"quantitative","scale":{"domain":[0,346],"nice":false,"zero":false,"padding":0},"axis":null},"y":{"field":"val","type":"quantitative"},
     "color":{"field":"key","type":"nominal","scale":{"domain":["m5","m10","m20","m60","m120","m200"],"range":["#eee88e","#78d6d6","#e02828","#5c5cff","#c8c8c8","#b8702c"]},"legend":null}}},
   {"data":{"name":"mk"},"mark":{"type":"point","shape":"M-0.13,1L0,-1L0.13,1","size":440,"filled":false,"strokeWidth":1.3},
    "encoding":{"x":{"field":"t","type":"quantitative","scale":{"domain":[0,346],"nice":false,"zero":false,"padding":0},"axis":null},"y":{"datum":8.42},
     "color":{"field":"key","type":"nominal","scale":{"domain":["m5","m10","m20","m60","m120","m200"],"range":["#eee88e","#78d6d6","#e02828","#5c5cff","#c8c8c8","#b8702c"]},"legend":null}}},
   {"data":{"name":"an"},"mark":{"type":"text","color":"#d6be6a","baseline":"middle","align":"center"},
    "encoding":{"x":{"field":"t","type":"quantitative","scale":{"domain":[0,346],"nice":false,"zero":false,"padding":0},"axis":null},"y":{"field":"p","type":"quantitative"},"text":{"field":"txt"},
     "size":{"condition":{"test":"datum.txt == 'V'","value":12},"value":16}}}
  ]},
  {"data":{"name":"leg"},"transform":[{"filter":"datum.panel == 'k'"}],"mark":{"type":"text","align":"left","baseline":"middle","dx":2},
   "encoding":{"x":{"datum":0},"y":{"field":"r","type":"quantitative","scale":{"domain":[0,14.714],"reverse":true,"nice":false,"zero":false},"axis":null},"text":{"field":"txt"},
    "color":{"field":"s","type":"nominal","scale":{"domain":[0,1,2,3,4,5,6,7,8,9,10,11,12,13,14],"range":["#58b4b4","#ece690","#7cd6d6","#e42a2a","#6464ff","#c8c8c8","#c07a34","#f2f2f2","#c63c3c","#d2bb6a","#5aaeae","#d2c062","#141414","#d01818","#1838c0"]},"legend":null},
    "size":{"condition":{"test":"datum.r < 1","value":16},"value":14}}}
 ],
 "resolve":{"scale":{"y":"independent","color":"independent"}}},
{"width":1210,"height":98,"view":{"stroke":"#a8a8a8","strokeWidth":2},
 "layer":[
  {"data":{"name":"k"},"mark":{"type":"bar","size":4,"clip":true},
   "encoding":{"x":{"field":"t","type":"quantitative","scale":{"domain":[0,346],"nice":false,"zero":false,"padding":0},"axis":null},
    "y":{"field":"v","type":"quantitative","scale":{"domain":[0,8400],"nice":false},
     "axis":{"orient":"right","values":[0,1000,4000,8400],"labelExpr":"datum.value > 1 && datum.value < 8300 ? format(datum.value, 'd') : ''","title":null,"grid":false,"domainColor":"#e8e8e8","domainWidth":2,"tickSize":70,"tickWidth":1.5,"tickColor":{"condition":{"test":"datum.value < 1 || datum.value > 8300","value":"#a8a8a8"},"value":"#5fa8a8"},"labelColor":"#5cb6b6","labelFont":"Liberation Serif","labelFontSize":16,"labelPadding":-66,"labelAlign":"left","labelBaseline":"alphabetic","labelOffset":-3,"labelFlush":false,"labelOverlap":false,"minExtent":70,"maxExtent":70}},
    "color":{"condition":[{"test":"datum.c > datum.o","value":"#e05050"},{"test":"datum.c < datum.o","value":"#f4f4f4"}],"value":"#1ca01c"}}},
  {"data":{"name":"ma"},"transform":[{"fold":["v5","v20"],"as":["key","val"]}],"mark":{"type":"line","strokeWidth":1.2,"clip":true},
   "encoding":{"x":{"field":"t","type":"quantitative","scale":{"domain":[0,346],"nice":false,"zero":false,"padding":0},"axis":null},"y":{"field":"val","type":"quantitative","scale":{"domain":[0,8400],"nice":false},"axis":null},
    "color":{"field":"key","type":"nominal","scale":{"domain":["v5","v20"],"range":["#ece690","#d82828"]},"legend":null}}},
  {"data":{"name":"leg"},"transform":[{"filter":"datum.panel == 'v'"}],"mark":{"type":"text","align":"left","baseline":"middle","dx":2},
   "encoding":{"x":{"datum":0},"y":{"field":"r","type":"quantitative","scale":{"domain":[0,7],"reverse":true,"nice":false,"zero":false},"axis":null},"text":{"field":"txt"},
    "color":{"field":"s","type":"nominal","scale":{"domain":[0,1,2,3,4,5,6,7,8,9,10,11,12,13,14],"range":["#58b4b4","#ece690","#7cd6d6","#e42a2a","#6464ff","#c8c8c8","#c07a34","#f2f2f2","#c63c3c","#d2bb6a","#5aaeae","#d2c062","#141414","#d01818","#1838c0"]},"legend":null},
    "size":{"condition":{"test":"datum.r < 1","value":16},"value":14}}}
 ],
 "resolve":{"scale":{"y":"independent","color":"independent"}}},
{"width":1210,"height":116,"view":{"stroke":"#a8a8a8","strokeWidth":2},
 "layer":[
  {"data":{"name":"k"},"mark":{"type":"bar","size":5.5,"color":"#ee1212","clip":true},
   "encoding":{"x":{"field":"t","type":"quantitative","scale":{"domain":[0,346],"nice":false,"zero":false,"padding":0},"axis":null},
    "y":{"field":"a","type":"quantitative","scale":{"domain":[0.5,9.85],"nice":false,"zero":false},
     "axis":{"orient":"right","values":[0.5,3,5.5,8,9.85],"labelExpr":"datum.value < 9.8 ? format(datum.value, '.3f') : ''","title":null,"grid":false,"domainColor":"#e8e8e8","domainWidth":2,"tickSize":70,"tickWidth":1.5,"tickColor":{"condition":{"test":"datum.value > 9.8","value":"#a8a8a8"},"value":"#5fa8a8"},"labelColor":"#5cb6b6","labelFont":"Liberation Serif","labelFontSize":16,"labelPadding":-66,"labelAlign":"left","labelBaseline":"alphabetic","labelOffset":-3,"labelFlush":false,"labelOverlap":false,"minExtent":70,"maxExtent":70}}}},
  {"data":{"name":"ma"},"mark":{"type":"line","strokeWidth":1.2,"color":"#c4e4e4","clip":true},
   "encoding":{"x":{"field":"t","type":"quantitative","scale":{"domain":[0,346],"nice":false,"zero":false,"padding":0},"axis":null},"y":{"field":"a20","type":"quantitative","scale":{"domain":[0.5,9.85],"nice":false,"zero":false},"axis":null}}},
  {"data":{"name":"leg"},"transform":[{"filter":"datum.panel == 'a'"}],"mark":{"type":"text","align":"left","baseline":"middle","dx":2},
   "encoding":{"x":{"datum":0},"y":{"field":"r","type":"quantitative","scale":{"domain":[0,8.286],"reverse":true,"nice":false,"zero":false},"axis":null},"text":{"field":"txt"},
    "color":{"field":"s","type":"nominal","scale":{"domain":[0,1,2,3,4,5,6,7,8,9,10,11,12,13,14],"range":["#58b4b4","#ece690","#7cd6d6","#e42a2a","#6464ff","#c8c8c8","#c07a34","#f2f2f2","#c63c3c","#d2bb6a","#5aaeae","#d2c062","#141414","#d01818","#1838c0"]},"legend":null},
    "size":{"condition":{"test":"datum.r < 1","value":16},"value":14}}}
 ],
 "resolve":{"scale":{"y":"independent","color":"independent"}}},
{"width":1210,"height":106,"view":{"stroke":"#a05858","strokeWidth":2},
 "layer":[
  {"data":{"name":"mg"},"mark":{"type":"line","strokeWidth":1.3,"color":"#dedc98","clip":true},
   "encoding":{"x":{"field":"t","type":"quantitative","scale":{"domain":[0,346],"nice":false,"zero":false,"padding":0},"axis":null},
    "y":{"field":"v","type":"quantitative","scale":{"domain":[4024,7744],"nice":false,"zero":false},
     "axis":{"orient":"right","values":[4024,4200,5200,6200,7744],"labelExpr":"datum.value > 4100 && datum.value < 7700 ? format(datum.value, 'd') : ''","title":null,"grid":false,"domainColor":"#c06060","domainWidth":2,"tickSize":70,"tickWidth":1.5,"tickColor":{"condition":{"test":"datum.value < 4100 || datum.value > 7700","value":"#a05858"},"value":"#5fa8a8"},"labelColor":"#5cb6b6","labelFont":"Liberation Serif","labelFontSize":16,"labelPadding":-66,"labelAlign":"left","labelBaseline":"alphabetic","labelOffset":-3,"labelFlush":false,"labelOverlap":false,"minExtent":70,"maxExtent":70}},
    "detail":{"field":"seg","type":"nominal"}}},
  {"data":{"name":"leg"},"transform":[{"filter":"datum.panel == 'm'"}],"mark":{"type":"text","align":"left","baseline":"middle","dx":2},
   "encoding":{"x":{"datum":0},"y":{"field":"r","type":"quantitative","scale":{"domain":[0,7.571],"reverse":true,"nice":false,"zero":false},"axis":null},"text":{"field":"txt"},
    "color":{"field":"s","type":"nominal","scale":{"domain":[0,1,2,3,4,5,6,7,8,9,10,11,12,13,14],"range":["#58b4b4","#ece690","#7cd6d6","#e42a2a","#6464ff","#c8c8c8","#c07a34","#f2f2f2","#c63c3c","#d2bb6a","#5aaeae","#d2c062","#141414","#d01818","#1838c0"]},"legend":null},
    "size":{"condition":{"test":"datum.r < 1","value":16},"value":14}}}
 ],
 "resolve":{"scale":{"y":"independent"}}},
{"width":1210,"height":108,"view":{"stroke":"#a05858","strokeWidth":2},
 "layer":[
  {"data":{"name":"fh"},"mark":{"type":"line","strokeWidth":1.3,"color":"#dedc98","clip":true},
   "encoding":{"x":{"field":"t","type":"quantitative","scale":{"domain":[0,346],"nice":false,"zero":false,"padding":0},"axis":null},
    "y":{"field":"v","type":"quantitative","scale":{"domain":[2200,2897],"nice":false,"zero":false},
     "axis":{"orient":"right","values":[2200,2400,2600,2897],"labelExpr":"datum.value < 2800 ? format(datum.value, 'd') : ''","title":null,"grid":false,"domainColor":"#c06060","domainWidth":2,"tickSize":70,"tickWidth":1.5,"tickColor":{"condition":{"test":"datum.value > 2800","value":"#a05858"},"value":"#5fa8a8"},"labelColor":"#5cb6b6","labelFont":"Liberation Serif","labelFontSize":16,"labelPadding":-66,"labelAlign":"left","labelBaseline":"alphabetic","labelOffset":-3,"labelFlush":false,"labelOverlap":false,"minExtent":70,"maxExtent":70}}}},
  {"data":{"name":"leg"},"transform":[{"filter":"datum.panel == 'f'"}],"mark":{"type":"text","align":"left","baseline":"middle","dx":2},
   "encoding":{"x":{"datum":0},"y":{"field":"r","type":"quantitative","scale":{"domain":[0,7.714],"reverse":true,"nice":false,"zero":false},"axis":null},"text":{"field":"txt"},
    "color":{"field":"s","type":"nominal","scale":{"domain":[0,1,2,3,4,5,6,7,8,9,10,11,12,13,14],"range":["#58b4b4","#ece690","#7cd6d6","#e42a2a","#6464ff","#c8c8c8","#c07a34","#f2f2f2","#c63c3c","#d2bb6a","#5aaeae","#d2c062","#141414","#d01818","#1838c0"]},"legend":null},
    "size":{"condition":{"test":"datum.r < 1","value":16},"value":14}}}
 ],
 "resolve":{"scale":{"y":"independent"}}},
{"width":1280,"height":18,"view":{"stroke":"#a8a8a8","strokeWidth":2},"data":{"name":"mo"},
 "layer":[
  {"mark":{"type":"rule","color":"#f0f0f0","strokeWidth":1.5},
   "encoding":{"x":{"field":"t","type":"quantitative","scale":{"domain":[0,366.02],"nice":false,"zero":false},"axis":null}}},
  {"mark":{"type":"text","align":"left","baseline":"middle","dx":3,"color":"#f0f0f0","fontSize":15},
   "encoding":{"x":{"field":"t","type":"quantitative"},"text":{"field":"label"}}}
 ]},
{"width":1280,"height":17,"data":{"name":"ft"},
 "mark":{"type":"text","align":"left","baseline":"middle","fontSize":16},
 "encoding":{"x":{"field":"col","type":"quantitative","scale":{"domain":[0,80],"nice":false,"zero":false},"axis":null},"text":{"field":"txt"},
  "color":{"field":"s","type":"nominal","scale":{"domain":[0,1,2,3,4,5,6,7,8,9,10,11,12,13,14],"range":["#58b4b4","#ece690","#7cd6d6","#e42a2a","#6464ff","#c8c8c8","#c07a34","#f2f2f2","#c63c3c","#d2bb6a","#5aaeae","#d2c062","#141414","#d01818","#1838c0"]},"legend":null}}},
{"width":1280,"height":19,"view":{"fill":"#d4d0c8","stroke":null},
 "layer":[
  {"data":{"name":"tb"},"mark":{"type":"rect","fill":"#e2dfd8","stroke":"#707070","strokeWidth":1},
   "encoding":{"x":{"field":"a","type":"quantitative","scale":{"domain":[0,80],"nice":false,"zero":false},"axis":null},"x2":{"field":"b"},
    "y":{"datum":0.08,"type":"quantitative","scale":{"domain":[0,1],"nice":false,"zero":false},"axis":null},"y2":{"datum":0.92}}},
  {"data":{"name":"tl"},"transform":[{"filter":"datum.g == 0"}],"mark":{"type":"text","align":"left","baseline":"middle","fontSize":17,"font":"Liberation Serif"},
   "encoding":{"x":{"field":"col","type":"quantitative"},"text":{"field":"txt"},
    "color":{"field":"s","type":"nominal","scale":{"domain":[0,1,2,3,4,5,6,7,8,9,10,11,12,13,14],"range":["#58b4b4","#ece690","#7cd6d6","#e42a2a","#6464ff","#c8c8c8","#c07a34","#f2f2f2","#c63c3c","#d2bb6a","#5aaeae","#d2c062","#141414","#d01818","#1838c0"]},"legend":null}}},
  {"data":{"name":"tl"},"transform":[{"filter":"datum.g > 0"}],"mark":{"type":"text","align":"left","baseline":"middle","font":"Liberation Sans, Noto Sans CJK TC"},
   "encoding":{"x":{"field":"col","type":"quantitative"},"text":{"field":"txt"},
    "color":{"field":"s","type":"nominal","scale":{"domain":[0,1,2,3,4,5,6,7,8,9,10,11,12,13,14],"range":["#58b4b4","#ece690","#7cd6d6","#e42a2a","#6464ff","#c8c8c8","#c07a34","#f2f2f2","#c63c3c","#d2bb6a","#5aaeae","#d2c062","#141414","#d01818","#1838c0"]},"legend":null},
    "size":{"condition":[{"test":"datum.g == 1","value":11},{"test":"datum.g == 2","value":13}],"value":10}}}
 ]}
]
}
